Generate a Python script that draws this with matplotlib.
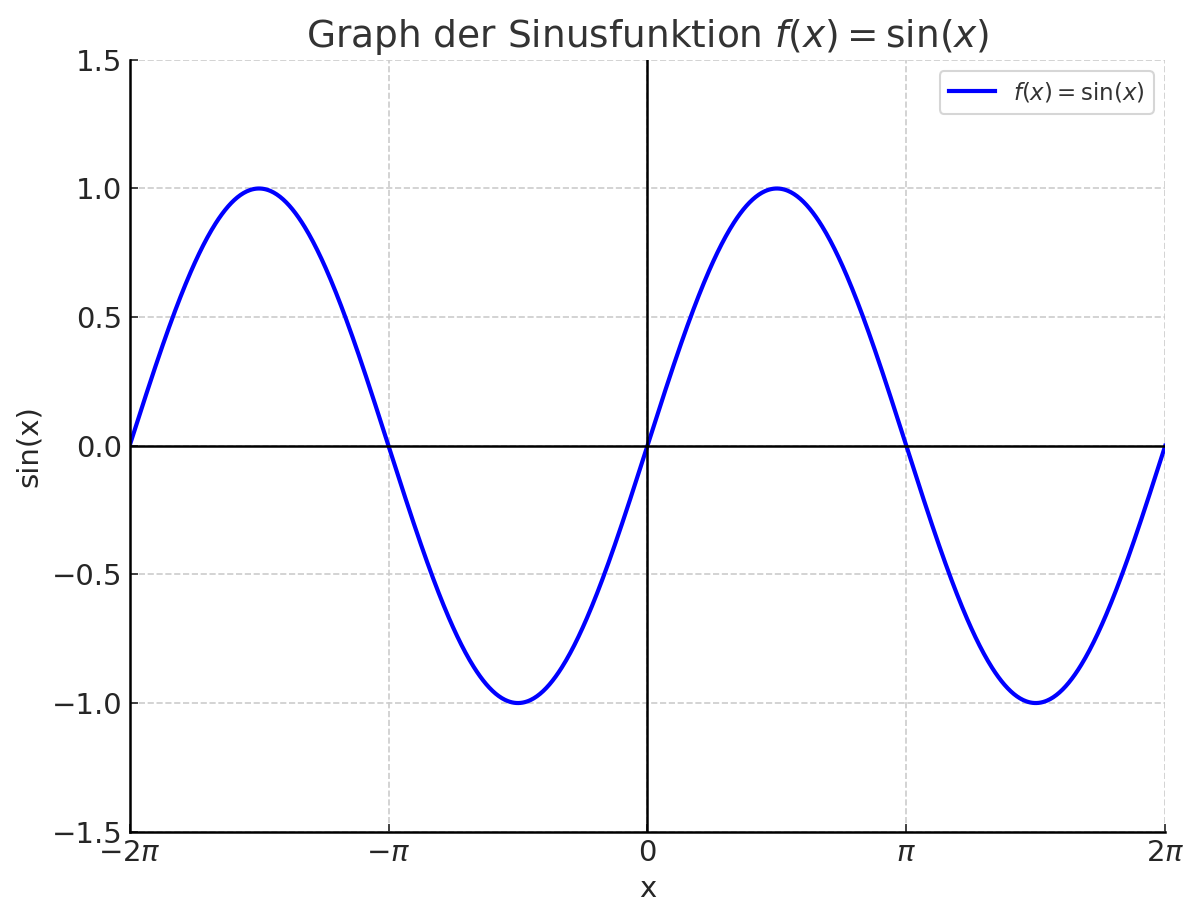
import numpy as np
import matplotlib
matplotlib.use('Agg')
import matplotlib.pyplot as plt

# Graph of f(x) = sin(x) over [-2pi, 2pi]
x_start = -2 * np.pi
x_end = 2 * np.pi
n_points = 1000
x = np.linspace(x_start, x_end, n_points)
y = np.sin(x)

xticks = [-2 * np.pi, -np.pi, 0, np.pi, 2 * np.pi]
xtick_labels = [r'$-2\pi$', r'$-\pi$', r'$0$', r'$\pi$', r'$2\pi$']
yticks = [-1.5, -1.0, -0.5, 0.0, 0.5, 1.0, 1.5]

text_color = '#262626'

fig, ax = plt.subplots(figsize=(8, 6.14), dpi=150)
ax.plot(x, y, color='blue', lw=2, label=r'$f(x) = \sin(x)$')
ax.axhline(0, color='black', lw=1.2)
ax.axvline(0, color='black', lw=1.2)

ax.set_xlim(x_start, x_end)
ax.set_ylim(-1.5, 1.5)
ax.set_xticks(xticks)
ax.set_xticklabels(xtick_labels)
ax.set_yticks(yticks)
ax.tick_params(direction='in', length=4, labelsize=14, colors=text_color)

ax.set_title(r'Graph der Sinusfunktion $f(x) = \sin(x)$', fontsize=18, color='#333333')
ax.set_xlabel('x', fontsize=14, color=text_color)
ax.set_ylabel('sin(x)', fontsize=14, color=text_color)

ax.grid(True, ls='--', color='#cccccc', lw=0.8)
for side in ['top', 'right']:
    ax.spines[side].set_visible(False)
for side in ['left', 'bottom']:
    ax.spines[side].set_linewidth(1.2)

leg = ax.legend(loc='upper right', fontsize=11)
for t in leg.get_texts():
    t.set_color('#333333')

fig.subplots_adjust(left=0.108, right=0.971, top=0.935, bottom=0.097)
fig.savefig('out.png', dpi=150)
